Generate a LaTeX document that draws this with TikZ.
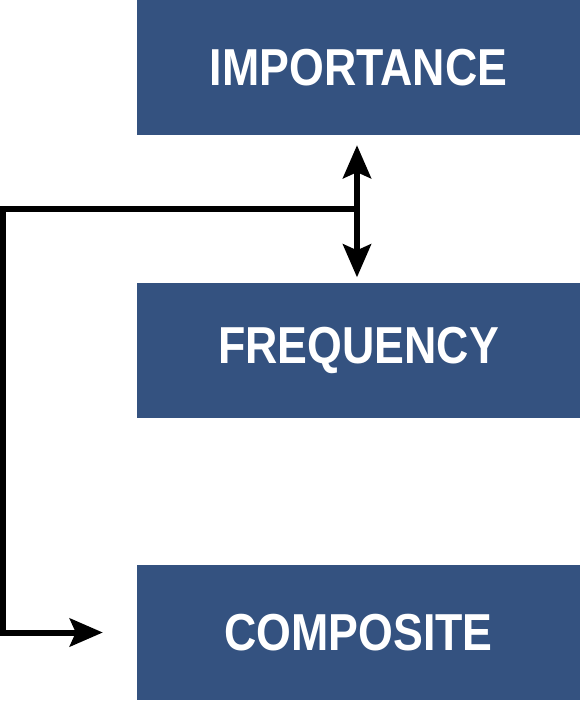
\documentclass[tikz,border=0pt]{standalone}
\usepackage{fontspec}
\newfontfamily\boxfont[FakeStretch=0.86]{Liberation Sans Bold}
\usetikzlibrary{arrows.meta,calc}
\definecolor{boxblue}{RGB}{52,82,128}
\begin{document}
\begin{tikzpicture}[x=1pt,y=-1pt,
  box/.style={fill=boxblue,draw=none,minimum width=443pt,minimum height=135pt,inner sep=0pt,
    text=white,font=\boxfont\fontsize{52}{52}\selectfont},
  conn/.style={line width=6pt,draw=black},
  >={Stealth[length=33pt,width=28pt,inset=6pt]}]
\useasboundingbox (0,0) rectangle (582,702);
\node[box] (imp) at (358.5,67.5) {IMPORTANCE};
\node[box] (freq) at (358.5,350) {FREQUENCY};
\node[box] (comp) at (358.5,632.5) {COMPOSITE};
\draw[conn,<->] ($(imp.south)+(-1.5,10)$) -- ($(freq.north)+(-1.5,-5)$);
\coordinate (j) at (357,209);
\coordinate (corner) at (3,209);
\coordinate (tipend) at ($(comp.west)+(-34,0)$);
\draw[conn,->] (j) -- (corner) |- (tipend);
\end{tikzpicture}
\end{document}
